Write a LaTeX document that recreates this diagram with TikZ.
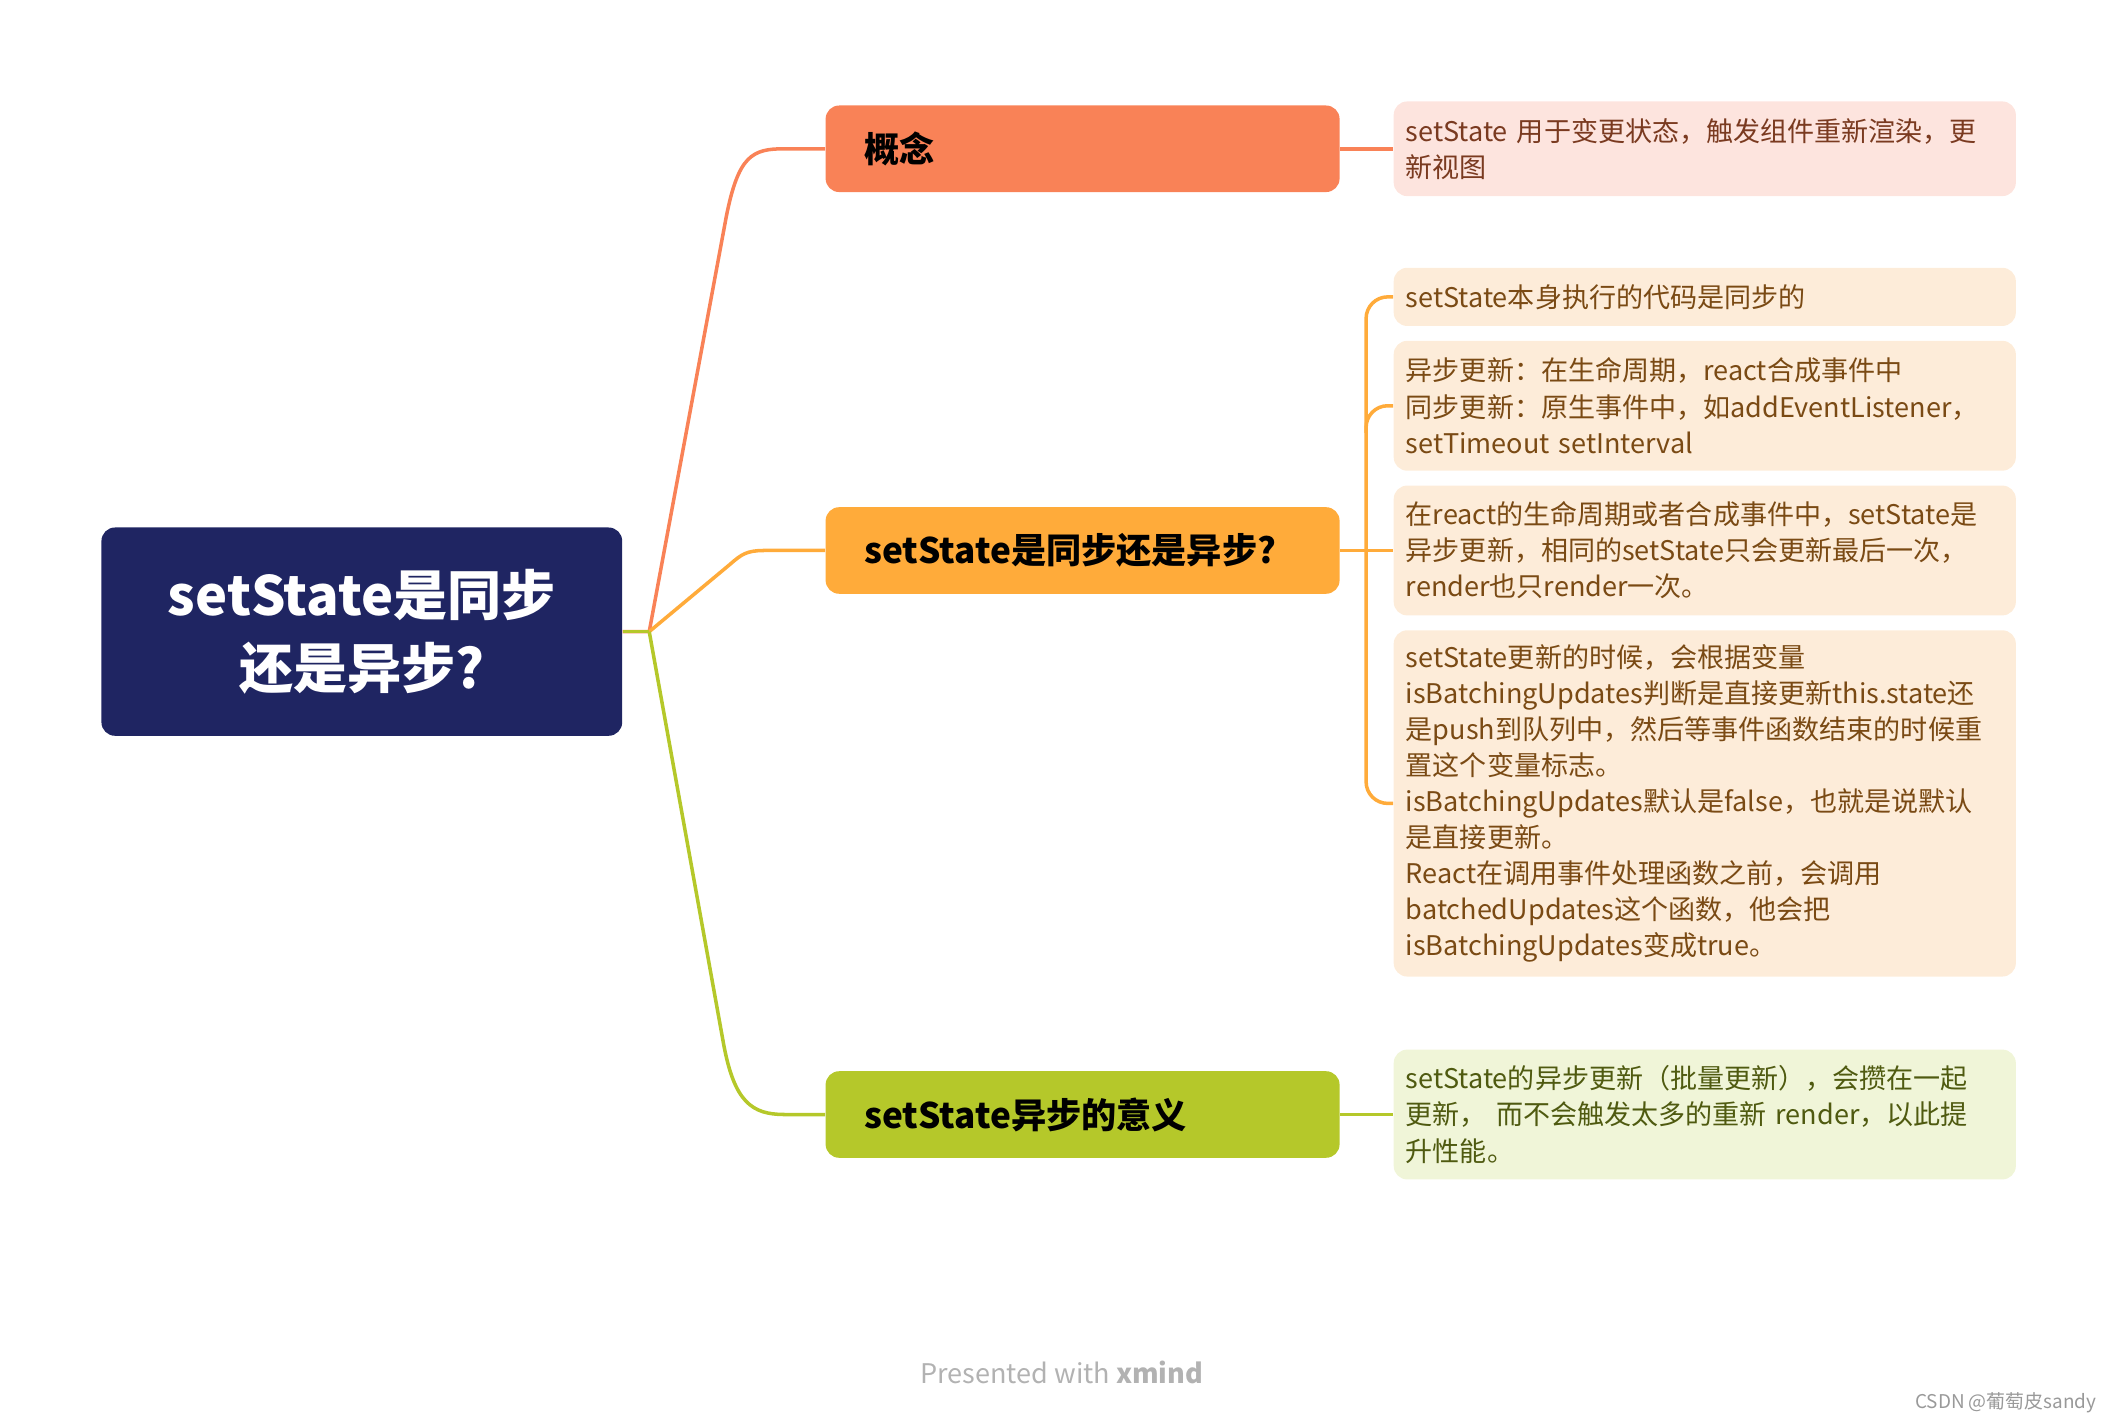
\documentclass[tikz,border=0pt]{standalone}
\usepackage{fontspec}
\setmainfont{Noto Sans CJK SC}
\begin{document}
\begin{tikzpicture}[x=0.5pt,y=-0.5pt,
  br/.style={rectangle,rounded corners=5pt,minimum width=190pt,minimum height=32pt,anchor=west,inner sep=0pt},
  brtext/.style={font=\fontsize{13}{15}\selectfont\bfseries,anchor=west},
  det/.style={rectangle,rounded corners=5pt,text width=221pt,inner xsep=4.5pt,inner ysep=0pt,anchor=west,align=left,font=\fontsize{10}{13.35}\selectfont},
  conn/.style={line width=1.3pt}]
\useasboundingbox (0,0) rectangle (1560,1047);
\definecolor{rootc}{HTML}{1F2562}
\definecolor{c1}{HTML}{F98257}
\definecolor{c2}{HTML}{FFAB3A}
\definecolor{c3}{HTML}{B5C82A}
\definecolor{f1}{HTML}{FDE4DE}
\definecolor{f2}{HTML}{FDECD9}
\definecolor{f3}{HTML}{F0F5D8}
\definecolor{t1}{HTML}{7A3A20}
\definecolor{t2}{HTML}{7A4A14}
\definecolor{t3}{HTML}{4F5A10}
% root
\node[rectangle,rounded corners=5pt,fill=rootc,minimum width=192.5pt,minimum height=77pt,text=white,align=center,font=\fontsize{20}{27}\selectfont\bfseries] (root) at (267.5,467) {setState是同步\\还是异步?};
% branches
\node[br,fill=c1] (b1) at (610,110) {};
\node[brtext] at (632,110) {概念};
\node[br,fill=c2] (b2) at (610,407) {};
\node[brtext] at (632,407) {setState是同步还是异步?};
\node[br,fill=c3] (b3) at (610,824) {};
\node[brtext] at (632,824) {setState异步的意义};
% details
\node[det,fill=f1,text=t1,minimum height=35pt] (d1) at (1030,110) {setState 用于变更状态，触发组件重新渲染，更\\新视图};
\node[det,fill=f2,text=t2,minimum height=21.5pt] (d2) at (1030,219.5) {setState本身执行的代码是同步的};
\node[det,fill=f2,text=t2,minimum height=48pt] (d3) at (1030,300) {异步更新：在生命周期，react合成事件中\\同步更新：原生事件中，如addEventListener，\\setTimeout setInterval};
\node[det,fill=f2,text=t2,minimum height=48pt] (d4) at (1030,407) {在react的生命周期或者合成事件中，setState是\\异步更新，相同的setState只会更新最后一次，\\render也只render一次。};
\node[det,fill=f2,text=t2,minimum height=128pt] (d5) at (1030,594) {setState更新的时候，会根据变量\\isBatchingUpdates判断是直接更新this.state还\\是push到队列中，然后等事件函数结束的时候重\\置这个变量标志。\\isBatchingUpdates默认是false，也就是说默认\\是直接更新。\\React在调用事件处理函数之前，会调用\\batchedUpdates这个函数，他会把\\isBatchingUpdates变成true。};
\node[det,fill=f3,text=t3,minimum height=48pt] (d6) at (1030,824) {setState的异步更新（批量更新），会攒在一起\\更新， 而不会触发太多的重新 render，以此提\\升性能。};
% connectors
\coordinate (r) at (480,467);
\draw[conn,c1] (root.east) -- (r) -- (537,160) .. controls (546,115) and (556,110) .. (580,110) -- (b1.west);
\draw[conn,c2] (r) -- (540,417) .. controls (548,410) and (552,407) .. (565,407) -- (b2.west);
\draw[conn,c3] (r) -- (535,772) .. controls (543,815) and (556,824) .. (580,824) -- (b3.west);
\draw[conn,c3] (root.east) -- (r);
\draw[conn,c1] (b1.east) -- (d1.west);
\draw[conn,c3] (b3.east) -- (d6.west);
\coordinate (v) at (1010,407);
\draw[conn,c2] (b2.east) -- (v) -- (d4.west);
\draw[conn,c2,rounded corners=8pt] (d2.west) -- (1010,219.5) -- (1010,594) -- (d5.west);
\draw[conn,c2,rounded corners=8pt] (1010,320) -- (1010,300) -- (d3.west);
% footer
\node[text=black!30,font=\fontsize{10}{12}\selectfont] (foot) at (785,1015) {Presented with \textbf{xmind}};
\node[text=black!40,font=\fontsize{7}{9}\selectfont,anchor=east] (csdn) at (1557,1037) {CSDN @葡萄皮sandy};
\end{tikzpicture}
\end{document}
